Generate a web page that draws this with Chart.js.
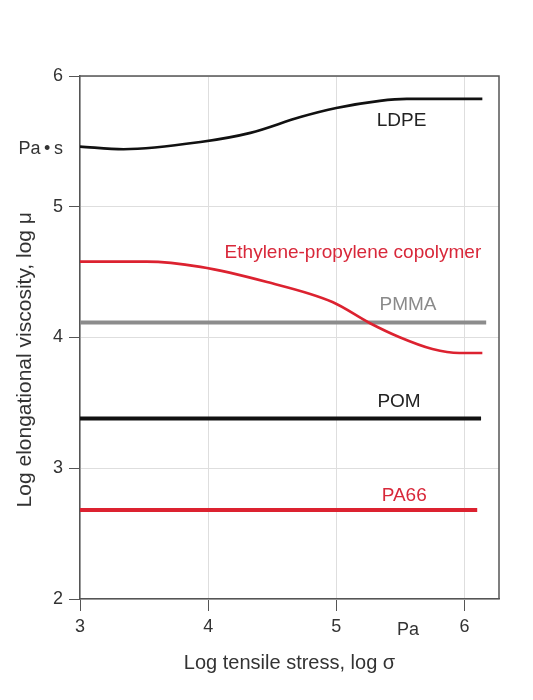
<!DOCTYPE html>
<html>
<head>
<meta charset="utf-8">
<title>Elongational viscosity</title>
<script src="https://cdn.jsdelivr.net/npm/chart.js@4"></script>
<style>
    body { margin: 0; background: #fff; }
    canvas { display: block; }
</style>
</head>
<body>
<canvas id="viscChart" width="533" height="700"></canvas>
<script>
const xTicks = [3, 4, 5, 6];
const yTicks = [2, 3, 4, 5, 6];

// log sigma / log mu
const ldpeX = [3.0, 3.34, 3.94, 4.33, 4.72, 5.0, 5.34, 5.55, 6.14];
const ldpeY = [5.46, 5.44, 5.495, 5.565, 5.686, 5.755, 5.81, 5.825, 5.825];

const copoX = [3.0, 3.52, 3.94, 4.46, 4.97, 5.26, 5.49, 5.75, 5.96, 6.14];
const copoY = [4.58, 4.58, 4.54, 4.424, 4.271, 4.111, 4.004, 3.912, 3.881, 3.881];

const pmmaX = [3.0, 6.17];
const pmmaY = [4.115, 4.115];

const pomX = [3.0, 6.13];
const pomY = [3.38, 3.38];

const pa66X = [3.0, 6.10];
const pa66Y = [2.68, 2.68];

const labelText = ['LDPE', 'Ethylene-propylene copolymer', 'PMMA', 'POM', 'PA66'];
const labelX = [5.51, 5.13, 5.56, 5.49, 5.53];
const labelY = [5.66, 4.65, 4.25, 3.51, 2.79];
const labelColor = ['#222222', '#d8283a', '#8a8a8a', '#222222', '#d8283a'];

const FONT = '"Liberation Sans", Arial, sans-serif';
const RED = '#dc2230';

function toPoints(xs, ys) {
    return xs.map((x, i) => ({ x: x, y: ys[i] }));
}

function lineSet(name, xs, ys, color, width) {
    return {
        label: name,
        data: toPoints(xs, ys),
        borderColor: color,
        borderWidth: width,
        showLine: true,
        pointRadius: 0,
        tension: 0.4,
        cubicInterpolationMode: 'monotone',
        borderCapStyle: 'butt'
    };
}

// frame, curve names, units and the rotated y title
const extrasPlugin = {
    id: 'extras',
    afterDraw(chart) {
        const ctx = chart.ctx;
        const area = chart.chartArea;
        const xs = chart.scales.x;
        const ys = chart.scales.y;

        ctx.save();
        ctx.strokeStyle = '#555555';
        ctx.lineWidth = 1.5;
        ctx.beginPath();
        ctx.moveTo(area.left, area.top);
        ctx.lineTo(area.right, area.top);
        ctx.lineTo(area.right, area.bottom);
        ctx.stroke();

        ctx.textAlign = 'center';
        ctx.textBaseline = 'middle';
        ctx.font = '19px ' + FONT;
        labelText.forEach((t, i) => {
            ctx.fillStyle = labelColor[i];
            ctx.fillText(t, xs.getPixelForValue(labelX[i]), ys.getPixelForValue(labelY[i]));
        });

        ctx.fillStyle = '#333333';
        ctx.font = '18px ' + FONT;
        ctx.textAlign = 'right';
        ctx.fillText('Pa\u2009\u2022\u2009s', area.left - 17, ys.getPixelForValue(5.44));
        ctx.textAlign = 'center';
        ctx.fillText('Pa', xs.getPixelForValue(5.56), area.bottom + 31);

        ctx.font = '21px ' + FONT;
        ctx.translate(25, ys.getPixelForValue(3.83));
        ctx.rotate(-Math.PI / 2);
        ctx.fillText('Log elongational viscosity, log \u03bc', 0, 0);
        ctx.restore();
    }
};

function initChart() {
    const ctx = document.getElementById('viscChart');

    new Chart(ctx, {
        type: 'scatter',
        data: {
            datasets: [
                lineSet('LDPE', ldpeX, ldpeY, '#111111', 2.6),
                lineSet('Ethylene-propylene copolymer', copoX, copoY, RED, 2.6),
                lineSet('PMMA', pmmaX, pmmaY, '#8c8c8c', 4),
                lineSet('POM', pomX, pomY, '#111111', 4),
                lineSet('PA66', pa66X, pa66Y, RED, 4)
            ]
        },
        options: {
            responsive: false,
            animation: false,
            layout: {
                padding: { top: 76, right: 34, left: 0, bottom: 0 }
            },
            plugins: {
                legend: { display: false },
                tooltip: { enabled: false }
            },
            scales: {
                x: {
                    type: 'linear',
                    min: 3,
                    max: 6.27,
                    afterFit: s => { s.height = 101; },
                    afterBuildTicks: s => { s.ticks = xTicks.map(v => ({ value: v })); },
                    grid: { color: '#dedede', tickColor: '#555555', tickLength: 12, lineWidth: 1 },
                    border: { color: '#555555', width: 1.5 },
                    ticks: { color: '#333333', padding: 5, font: { family: FONT, size: 18 } },
                    title: {
                        display: true,
                        text: 'Log tensile stress, log \u03c3',
                        color: '#333333',
                        font: { family: FONT, size: 20 },
                        padding: { top: 0, bottom: 25 }
                    }
                },
                y: {
                    type: 'linear',
                    min: 2,
                    max: 6,
                    afterFit: s => { s.width = 80; },
                    afterBuildTicks: s => { s.ticks = yTicks.map(v => ({ value: v })); },
                    grid: { color: '#dedede', tickColor: '#555555', tickLength: 11, lineWidth: 1 },
                    border: { color: '#555555', width: 1.5 },
                    ticks: { color: '#333333', padding: 6, font: { family: FONT, size: 18 } }
                }
            }
        },
        plugins: [extrasPlugin]
    });
}

document.addEventListener('DOMContentLoaded', initChart);
</script>
</body>
</html>
